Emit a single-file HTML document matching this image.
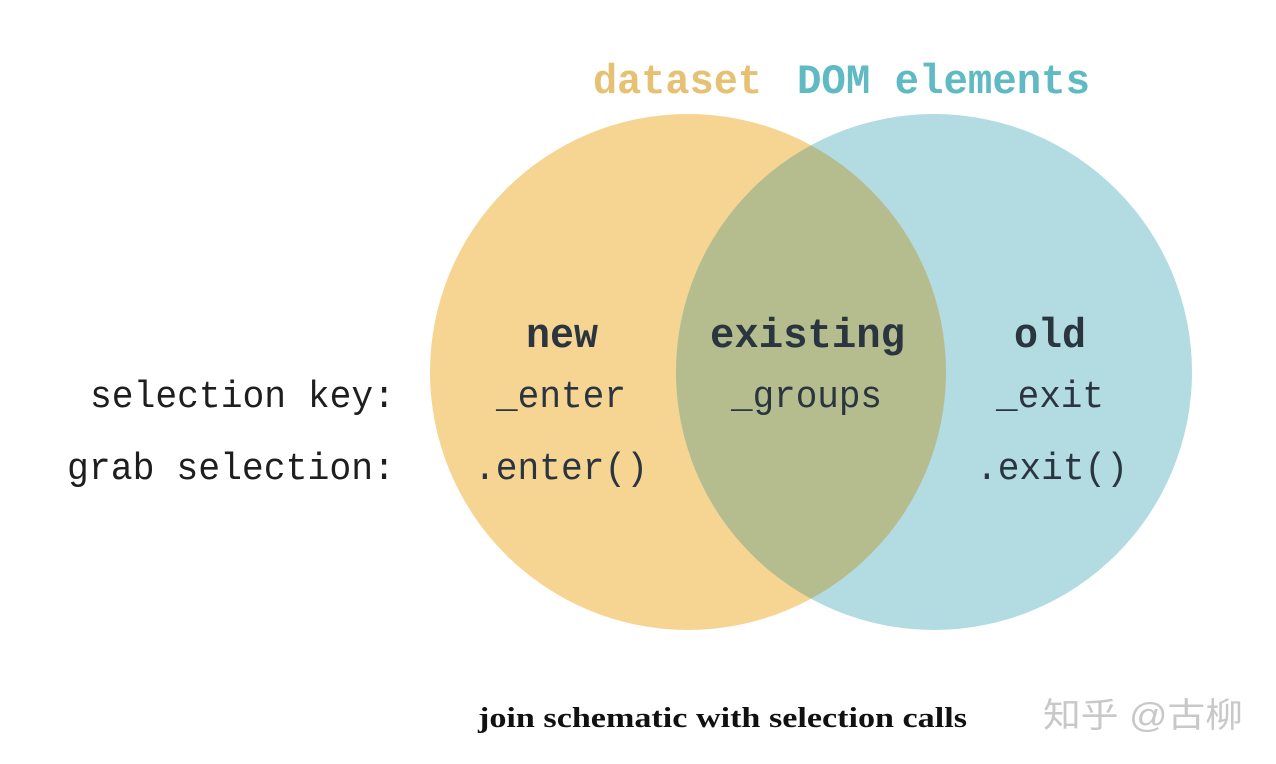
<!DOCTYPE html>
<html><head><meta charset="utf-8"><style>
html,body{margin:0;padding:0;background:#fff;}
svg{display:block}
</style></head><body>
<svg width="1276" height="764" viewBox="0 0 1276 764" xmlns="http://www.w3.org/2000/svg">
<rect width="1276" height="764" fill="#fff"/>
<circle cx="688" cy="372" r="258" fill="#f6d592"/>
<circle cx="934" cy="372" r="258" fill="#b3dce2"/>
<clipPath id="c"><circle cx="688" cy="372" r="258"/></clipPath>
<circle cx="934" cy="372" r="258" fill="#b5bd8f" clip-path="url(#c)"/>
<g font-family="Liberation Mono, monospace" font-weight="bold" font-size="42">
<text x="593" y="93" fill="#e6c073" textLength="169" lengthAdjust="spacingAndGlyphs">dataset</text>
<text x="797" y="93" fill="#5fbac3" textLength="293" lengthAdjust="spacingAndGlyphs">DOM elements</text>
<text x="526" y="347" fill="#2a3540" textLength="72" lengthAdjust="spacingAndGlyphs">new</text>
<text x="710" y="347" fill="#2a3540" textLength="195" lengthAdjust="spacingAndGlyphs">existing</text>
<text x="1014" y="347" fill="#2a3540" textLength="72" lengthAdjust="spacingAndGlyphs">old</text>
</g>
<g font-family="Liberation Mono, monospace" font-size="38" fill="#1e1e1e">
<text x="90" y="407" textLength="305" lengthAdjust="spacingAndGlyphs">selection key:</text>
<text x="67" y="479" textLength="328" lengthAdjust="spacingAndGlyphs">grab selection:</text>
<text x="496" y="407" fill="#2a3540" textLength="130" lengthAdjust="spacingAndGlyphs">_enter</text>
<text x="731" y="407" fill="#2a3540" textLength="151" lengthAdjust="spacingAndGlyphs">_groups</text>
<text x="996" y="407" fill="#2a3540" textLength="108" lengthAdjust="spacingAndGlyphs">_exit</text>
<text x="474" y="479" fill="#2a3540" textLength="174" lengthAdjust="spacingAndGlyphs">.enter()</text>
<text x="976" y="479" fill="#2a3540" textLength="152" lengthAdjust="spacingAndGlyphs">.exit()</text>
</g>
<text x="478" y="727" font-family="Liberation Serif, serif" font-weight="bold" font-size="28" fill="#111" textLength="489" lengthAdjust="spacingAndGlyphs">join schematic with selection calls</text>
<text x="1043" y="727" font-family="Liberation Sans, Noto Sans CJK SC, sans-serif" font-size="34" fill="#c8c8c8" textLength="200" lengthAdjust="spacingAndGlyphs">知乎 @古柳</text>
</svg>
</body></html>
